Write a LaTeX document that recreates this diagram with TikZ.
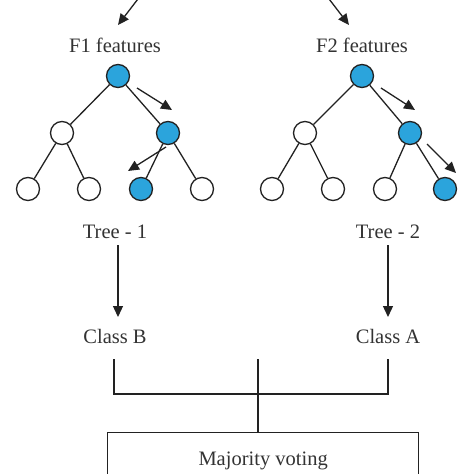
\documentclass[tikz,border=0pt]{standalone}
\usepackage{fontspec}
\setmainfont{Liberation Serif}
\usetikzlibrary{arrows.meta}
\definecolor{nodeblue}{HTML}{2BA4DC}
\definecolor{ink}{HTML}{222222}
\definecolor{txt}{HTML}{333333}
\begin{document}
\begin{tikzpicture}[x=1pt,y=-1pt,
  treenode/.style={circle,draw=ink,line width=1.3pt,minimum size=23pt,inner sep=0pt,fill=white},
  hot/.style={treenode,fill=nodeblue},
  edge/.style={draw=ink,line width=1.3pt},
  pathArrow/.style={draw=ink,line width=1.3pt,-{Triangle[length=11pt,width=10pt]}},
  flowArrow/.style={draw=ink,line width=1.3pt,-{Triangle[length=11pt,width=10pt]}},
  wire/.style={draw=ink,line width=1.3pt},
  lbl/.style={font=\fontsize{20.5}{24}\selectfont,text=txt,anchor=base,inner sep=0pt}]
\useasboundingbox (0,0) rectangle (474,474);
\clip (0,0) rectangle (474,474);
\fill[white] (0,0) rectangle (474,474);

% top incoming arrows
\coordinate (inL) at (141,-5);
\coordinate (inR) at (326,-5);
\coordinate (inLend) at (118,25);
\coordinate (inRend) at (349,25);
\draw[flowArrow] (inL) -- (inLend);
\draw[flowArrow] (inR) -- (inRend);

% labels
\node[lbl] (f1) at (115,52) {F1 features};
\node[lbl] (f2) at (362,52) {F2 features};

% Tree 1
\node[hot] (a0) at (118,76) {};
\node[treenode] (a1) at (62,133) {};
\node[hot] (a2) at (168,133) {};
\node[treenode] (a3) at (28,189) {};
\node[treenode] (a4) at (89,189) {};
\node[hot] (a5) at (141,189) {};
\node[treenode] (a6) at (202,189) {};
\draw[edge] (a0) -- (a1);
\draw[edge] (a0) -- (a2);
\draw[edge] (a1) -- (a3);
\draw[edge] (a1) -- (a4);
\draw[edge] (a2) -- (a5);
\draw[edge] (a2) -- (a6);
\coordinate (p1s) at (137,88);
\coordinate (p1e) at (172,110);
\coordinate (p2s) at (166,147);
\coordinate (p2e) at (128,171);
\draw[pathArrow] (p1s) -- (p1e);
\draw[pathArrow] (p2s) -- (p2e);

% Tree 2
\node[hot] (b0) at (362,76) {};
\node[treenode] (b1) at (305,133) {};
\node[hot] (b2) at (410,133) {};
\node[treenode] (b3) at (272,189) {};
\node[treenode] (b4) at (333,189) {};
\node[treenode] (b5) at (385,189) {};
\node[hot] (b6) at (445,189) {};
\draw[edge] (b0) -- (b1);
\draw[edge] (b0) -- (b2);
\draw[edge] (b1) -- (b3);
\draw[edge] (b1) -- (b4);
\draw[edge] (b2) -- (b5);
\draw[edge] (b2) -- (b6);
\coordinate (q1s) at (381,88);
\coordinate (q1e) at (415,110);
\coordinate (q2s) at (427,144);
\coordinate (q2e) at (456,173);
\draw[pathArrow] (q1s) -- (q1e);
\draw[pathArrow] (q2s) -- (q2e);

% tree labels and classes
\node[lbl] (t1) at (115,238) {Tree - 1};
\node[lbl] (t2) at (388,238) {Tree - 2};
\node[lbl] (cB) at (115,343) {Class B};
\node[lbl] (cA) at (388,343) {Class A};
\draw[flowArrow] ([xshift=3pt,yshift=-7pt]t1.base) -- ([xshift=3pt,yshift=26pt]cB.base);
\draw[flowArrow] ([yshift=-7pt]t2.base) -- ([yshift=26pt]cA.base);

% combining wires
\coordinate (jL) at (114,394);
\coordinate (jR) at (388,394);
\coordinate (mTop) at (258,359);
\node[draw=ink,line width=1.3pt,anchor=north west,minimum width=311pt,minimum height=56pt,inner sep=0pt,
  font=\fontsize{20.5}{24}\selectfont,text=txt] (vote) at (107,432) {Majority voting};
\draw[wire] ([xshift=-1pt,yshift=-16pt]cB.base) -- (jL) -- (jR) -- ([yshift=-16pt]cA.base);
\draw[wire] (mTop) -- (mTop |- vote.north);
\end{tikzpicture}
\end{document}
